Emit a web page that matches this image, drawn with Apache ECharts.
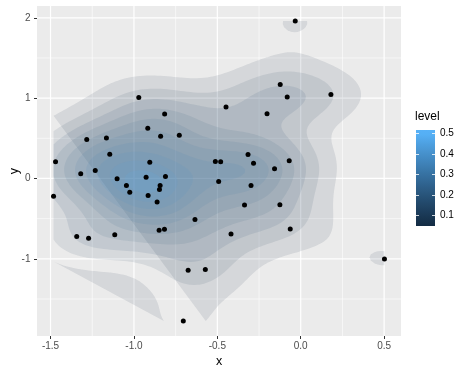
<!DOCTYPE html>
<html>
<head>
<meta charset="utf-8">
<script src="https://cdn.jsdelivr.net/npm/echarts@6.0.0/dist/echarts.min.js"></script>
<style>
  html, body { margin: 0; padding: 0; background: #fff; }
  #chart { width: 474px; height: 372px; }
</style>
</head>
<body>
<div id="chart"></div>
<script>
// points
const xs = [-0.971, -0.816, -0.917, -0.840, -0.728, -1.283, -1.165, -1.145, -1.470, -0.905,
  -0.512, -0.480, -0.033, -0.123, -0.081, 0.181, -0.448, -0.202, -0.316, -0.283,
  -0.069, -0.157, -1.319, -1.232, -1.101, -1.045, -1.025, -0.927, -0.811, -0.843,
  -0.847, -0.915, -0.861, -0.492, -1.482, -0.634, -0.849, -0.817, -1.343, -1.272,
  -1.115, -0.675, -0.572, -0.704, -0.298, -0.337, -0.125, -0.418, -0.063, 0.502];
const ys = [1.009, 0.803, 0.624, 0.525, 0.537, 0.484, 0.505, 0.301, 0.207, 0.202,
  0.211, 0.207, 1.960, 1.170, 1.014, 1.046, 0.890, 0.806, 0.298, 0.190,
  0.220, 0.120, 0.058, 0.099, -0.004, -0.087, -0.170, 0.016, 0.025, -0.087,
  -0.136, -0.211, -0.294, -0.037, -0.220, -0.512, -0.645, -0.633, -0.723, -0.744,
  -0.699, -1.141, -1.133, -1.774, -0.087, -0.331, -0.326, -0.691, -0.629, -1.001];

const xTicks = [-1.5, -1.0, -0.5, 0.0, 0.5];
const xMinor = [-1.25, -0.75, -0.25, 0.25];
const yTicks = [-1, 0, 1, 2];
const yMinor = [-1.5, -0.5, 0.5, 1.5];
const levelTicks = [0.1, 0.2, 0.3, 0.4, 0.5];
// colour bar extent as drawn in the legend
const barRange = [0.049, 0.516];

const LOW = '#132B43', HIGH = '#56B1F7';
const ALPHA = 0.1;

// ---- 2d density like MASS::kde2d (n = 100 over the data range) ----
function quantile(a, p) {
  const s = [...a].sort((u, v) => u - v);
  const h = (s.length - 1) * p, lo = Math.floor(h);
  return s[lo] + (h - lo) * (s[Math.min(lo + 1, s.length - 1)] - s[lo]);
}
function sd(a) {
  const m = a.reduce((s, v) => s + v, 0) / a.length;
  return Math.sqrt(a.reduce((s, v) => s + (v - m) * (v - m), 0) / (a.length - 1));
}
function bwNrd(a) {
  const h = (quantile(a, 0.75) - quantile(a, 0.25)) / 1.34;
  return 4 * 1.06 * Math.min(sd(a), h) * Math.pow(a.length, -0.2);
}
const dnorm = t => Math.exp(-0.5 * t * t) / Math.sqrt(2 * Math.PI);

const N = 100;
const xLo = Math.min(...xs), xHi = Math.max(...xs);
const yLo = Math.min(...ys), yHi = Math.max(...ys);
const hx = bwNrd(xs) / 4, hy = bwNrd(ys) / 4;
const gx = [], gy = [];
for (let i = 0; i < N; i++) {
  gx.push(xLo + i * (xHi - xLo) / (N - 1));
  gy.push(yLo + i * (yHi - yLo) / (N - 1));
}
const z = [];
let zMin = Infinity, zMax = -Infinity;
for (let i = 0; i < N; i++) {
  const row = [];
  for (let j = 0; j < N; j++) {
    let s = 0;
    for (let k = 0; k < xs.length; k++) {
      s += dnorm((gx[i] - xs[k]) / hx) * dnorm((gy[j] - ys[k]) / hy);
    }
    s /= xs.length * hx * hy;
    row.push(s);
    zMin = Math.min(zMin, s); zMax = Math.max(zMax, s);
  }
  z.push(row);
}

// R's pretty(range, 10)
function pretty(lo, hi, n) {
  const cell = (hi - lo) / n;
  const U = Math.pow(10, Math.floor(Math.log10(cell)));
  let unit = U;
  if (2 * U - cell < 1.5 * (cell - unit)) unit = 2 * U;
  if (5 * U - cell < 3.25 * (cell - unit)) unit = 5 * U;
  if (10 * U - cell < 1.5 * (cell - unit)) unit = 10 * U;
  const out = [];
  for (let k = Math.floor(lo / unit); k <= Math.ceil(hi / unit); k++) out.push(+(k * unit).toFixed(10));
  return out;
}

// marching squares isolines, joined into paths
function isolines(L) {
  const pts = {}, adj = {}, segs = [];
  const cross = (key, x1, y1, v1, x2, y2, v2) => {
    if (!pts[key]) {
      const t = (L - v1) / (v2 - v1);
      pts[key] = [x1 + t * (x2 - x1), y1 + t * (y2 - y1)];
    }
    return key;
  };
  const add = (k1, k2) => {
    segs.push([k1, k2]);
    (adj[k1] = adj[k1] || []).push(segs.length - 1);
    (adj[k2] = adj[k2] || []).push(segs.length - 1);
  };
  for (let i = 0; i < N - 1; i++) {
    for (let j = 0; j < N - 1; j++) {
      const a = z[i][j], b = z[i + 1][j], c = z[i + 1][j + 1], d = z[i][j + 1];
      const A = a >= L, B = b >= L, C = c >= L, D = d >= L;
      const e = {};
      if (A !== B) e.bot = cross('h' + i + ',' + j, gx[i], gy[j], a, gx[i + 1], gy[j], b);
      if (B !== C) e.right = cross('v' + (i + 1) + ',' + j, gx[i + 1], gy[j], b, gx[i + 1], gy[j + 1], c);
      if (D !== C) e.top = cross('h' + i + ',' + (j + 1), gx[i], gy[j + 1], d, gx[i + 1], gy[j + 1], c);
      if (A !== D) e.left = cross('v' + i + ',' + j, gx[i], gy[j], a, gx[i], gy[j + 1], d);
      const ks = Object.keys(e);
      if (ks.length === 2) add(e[ks[0]], e[ks[1]]);
      else if (ks.length === 4) {
        const centre = (a + b + c + d) / 4 >= L;
        if ((A && C && centre) || (B && D && !centre)) {
          add(e.bot, e.right); add(e.top, e.left);
        } else {
          add(e.bot, e.left); add(e.top, e.right);
        }
      }
    }
  }
  const used = new Uint8Array(segs.length);
  const walk = start => {
    const line = [start];
    let cur = start;
    for (;;) {
      const nxt = adj[cur].find(s => !used[s]);
      if (nxt === undefined) break;
      used[nxt] = 1;
      cur = segs[nxt][0] === cur ? segs[nxt][1] : segs[nxt][0];
      line.push(cur);
    }
    return line.map(k => pts[k]);
  };
  const lines = [];
  for (const k in adj) if (adj[k].length === 1 && !used[adj[k][0]]) lines.push(walk(k));
  for (let s = 0; s < segs.length; s++) if (!used[s]) lines.push(walk(segs[s][0]));
  return lines;
}

const polys = [];
pretty(zMin, zMax, 10).forEach(L => {
  isolines(L).forEach(p => { if (p.length > 2) polys.push({ level: L, pts: p }); });
});
const lvMin = Math.min(...polys.map(p => p.level));
const lvMax = Math.max(...polys.map(p => p.level));

// ---- colour scale, interpolated in Lab like scales::seq_gradient_pal ----
const WP = [0.95047, 1, 1.08883];
const toLin = c => { c /= 255; return c <= 0.04045 ? c / 12.92 : Math.pow((c + 0.055) / 1.055, 2.4); };
const toSrgb = c => { c = c <= 0.0031308 ? 12.92 * c : 1.055 * Math.pow(c, 1 / 2.4) - 0.055; return Math.round(Math.max(0, Math.min(1, c)) * 255); };
function hexLab(h) {
  const [r, g, b] = [1, 3, 5].map(i => toLin(parseInt(h.slice(i, i + 2), 16)));
  const X = 0.4124 * r + 0.3576 * g + 0.1805 * b;
  const Y = 0.2126 * r + 0.7152 * g + 0.0722 * b;
  const Z = 0.0193 * r + 0.1192 * g + 0.9505 * b;
  const f = t => t > 0.008856 ? Math.cbrt(t) : 7.787 * t + 16 / 116;
  const fx = f(X / WP[0]), fy = f(Y / WP[1]), fz = f(Z / WP[2]);
  return [116 * fy - 16, 500 * (fx - fy), 200 * (fy - fz)];
}
function labRgb(l) {
  const fy = (l[0] + 16) / 116, fx = fy + l[1] / 500, fz = fy - l[2] / 200;
  const fi = t => t * t * t > 0.008856 ? t * t * t : (t - 16 / 116) / 7.787;
  const X = fi(fx) * WP[0], Y = fi(fy) * WP[1], Z = fi(fz) * WP[2];
  return [3.2406 * X - 1.5372 * Y - 0.4986 * Z,
    -0.9689 * X + 1.8758 * Y + 0.0415 * Z,
    0.0557 * X - 0.2040 * Y + 1.0570 * Z].map(toSrgb);
}
const labLo = hexLab(LOW), labHi = hexLab(HIGH);
function levelColour(v, alpha) {
  const t = Math.max(0, Math.min(1, (v - lvMin) / (lvMax - lvMin)));
  const c = labRgb(labLo.map((u, i) => u + t * (labHi[i] - u)));
  return `rgba(${c[0]},${c[1]},${c[2]},${alpha})`;
}

// ---- axes: ggplot's 5% expansion ----
const xMin = xLo - 0.05 * (xHi - xLo), xMax = xHi + 0.05 * (xHi - xLo);
const yMin = yLo - 0.05 * (yHi - yLo), yMax = yHi + 0.05 * (yHi - yLo);

const gridLines = [
  ...xMinor.map(v => ({ dir: 'x', v, w: 0.6 })),
  ...yMinor.map(v => ({ dir: 'y', v, w: 0.6 })),
  ...xTicks.map(v => ({ dir: 'x', v, w: 1.2 })),
  ...yTicks.map(v => ({ dir: 'y', v, w: 1.2 }))
];

const cbStops = [];
for (let k = 0; k <= 20; k++) {
  cbStops.push({ offset: k / 20, color: levelColour(barRange[1] - k / 20 * (barRange[1] - barRange[0]), 1) });
}

const chart = echarts.init(document.getElementById('chart'));
chart.setOption({
  animation: false,
  textStyle: { fontFamily: 'Liberation Sans' },
  title: {
    text: 'level', left: 415, top: 111, padding: 0,
    textStyle: { fontSize: 12, fontWeight: 'normal', color: '#000' }
  },
  grid: [
    { left: 37, top: 6, width: 364, height: 330, show: true, backgroundColor: '#EBEBEB', borderWidth: 0,
      outerBoundsMode: 'none', containLabel: false },
    { left: 416, top: 130, width: 19, height: 96, show: true, borderWidth: 0,
      outerBoundsMode: 'none', containLabel: false,
      backgroundColor: new echarts.graphic.LinearGradient(0, 0, 0, 1, cbStops) }
  ],
  xAxis: [{
    type: 'value', min: xMin, max: xMax, position: 'bottom',
    name: 'x', nameLocation: 'middle', nameGap: 19, nameMoveOverlap: false,
    nameTextStyle: { fontSize: 12.5, color: '#000' },
    axisLine: { show: false, onZero: false },
    splitLine: { show: false },
    axisTick: { customValues: xTicks, length: 3, lineStyle: { color: '#333' } },
    axisLabel: { customValues: xTicks, margin: 5, fontSize: 10, color: '#4D4D4D', formatter: v => v.toFixed(1) }
  }, {
    type: 'value', gridIndex: 1, min: 0, max: 1, show: false,
    axisLine: { onZero: false }
  }],
  yAxis: [{
    type: 'value', min: yMin, max: yMax, position: 'left',
    name: 'y', nameLocation: 'middle', nameGap: 16, nameRotate: 90, nameMoveOverlap: false,
    nameTextStyle: { fontSize: 12.5, color: '#000' },
    axisLine: { show: false, onZero: false },
    splitLine: { show: false },
    axisTick: { customValues: yTicks, length: 3, lineStyle: { color: '#333' } },
    axisLabel: { customValues: yTicks, margin: 6.5, fontSize: 10, color: '#4D4D4D', formatter: v => String(v) }
  }, {
    type: 'value', gridIndex: 1, min: barRange[0], max: barRange[1], position: 'left',
    axisLine: { show: false, onZero: false }, splitLine: { show: false },
    axisLabel: { show: false },
    axisTick: { customValues: levelTicks, inside: true, length: 3, lineStyle: { color: 'rgba(255,255,255,0.8)', width: 1 } }
  }, {
    type: 'value', gridIndex: 1, min: barRange[0], max: barRange[1], position: 'right',
    axisLine: { show: false, onZero: false }, splitLine: { show: false },
    axisTick: { customValues: levelTicks, inside: true, length: 3, lineStyle: { color: 'rgba(255,255,255,0.8)', width: 1 } },
    axisLabel: { customValues: levelTicks, margin: 5, fontSize: 10, color: '#000', formatter: v => v.toFixed(1) }
  }],
  series: [{
    type: 'custom', z: 1, silent: true,
    data: gridLines.map((g, i) => [i, 0]),
    renderItem: (params, api) => {
      const g = gridLines[params.dataIndex];
      const p1 = g.dir === 'x' ? api.coord([g.v, yMin]) : api.coord([xMin, g.v]);
      const p2 = g.dir === 'x' ? api.coord([g.v, yMax]) : api.coord([xMax, g.v]);
      return { type: 'line', shape: { x1: p1[0], y1: p1[1], x2: p2[0], y2: p2[1] },
        style: { stroke: '#fff', lineWidth: g.w } };
    }
  }, {
    type: 'custom', z: 2, silent: true,
    data: polys.map((p, i) => [i, p.level]),
    renderItem: (params, api) => {
      const p = polys[params.dataIndex];
      return { type: 'polygon', shape: { points: p.pts.map(q => api.coord(q)) },
        style: { fill: levelColour(p.level, ALPHA) } };
    }
  }, {
    type: 'scatter', z: 3, symbolSize: 5,
    itemStyle: { color: '#000', opacity: 1 },
    data: xs.map((x, i) => [x, ys[i]])
  }]
});
</script>
</body>
</html>
